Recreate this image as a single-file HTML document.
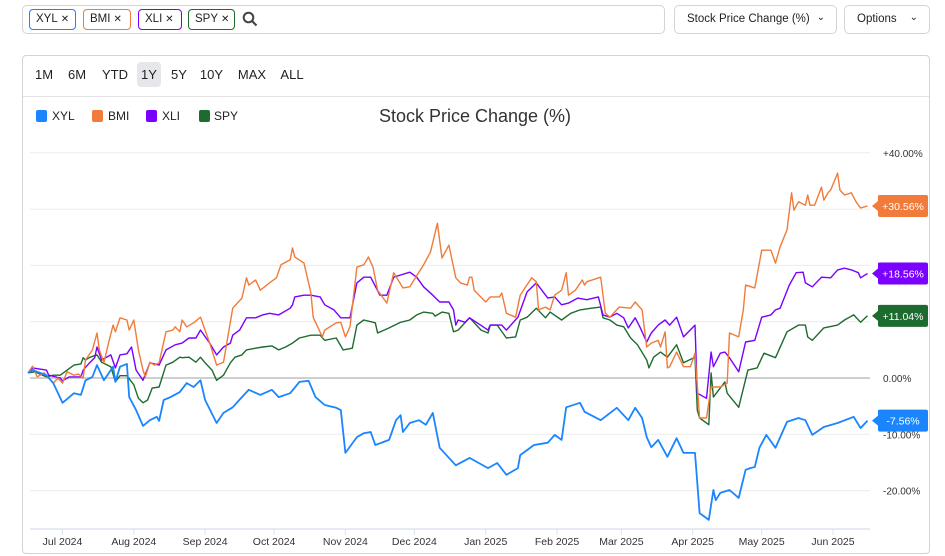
<!DOCTYPE html>
<html><head><meta charset="utf-8">
<style>
*{box-sizing:border-box;margin:0;padding:0}
body{width:945px;height:556px;background:#fff;font-family:"Liberation Sans",Arial,sans-serif;color:#222;position:relative;overflow:hidden}
.abs{position:absolute}
.search{left:22px;top:5px;width:643px;height:29px;border:1px solid #d4d4d8;border-radius:5px}
.tag{top:9px;height:21px;border:1.5px solid;border-radius:4px;font-size:11.5px;line-height:18px;padding-left:6px;color:#222}
.tag span{font-size:10px;margin-left:3px}
.dd{top:5px;height:29px;border:1px solid #d4d4d8;border-radius:5px;font-size:11.5px;line-height:27px;padding-left:12px}
.card{left:22px;top:55px;width:908px;height:499px;border:1px solid #d4d4d8;border-radius:4px}
.rb{top:62px;height:25px;font-size:13px;line-height:25px;text-align:center}
.leg{top:110px;font-size:12px;line-height:13px}
.sq{top:110px;width:11px;height:12px;border-radius:2px}
</style></head><body>
<div class="abs search"></div>
<div class="abs tag" style="left:29px;width:47px;border-color:#1a85ff">XYL<span>✕</span></div>
<div class="abs tag" style="left:83px;width:48px;border-color:#f07b3a">BMI<span>✕</span></div>
<div class="abs tag" style="left:138px;width:44px;border-color:#7a00ff">XLI<span>✕</span></div>
<div class="abs tag" style="left:188px;width:47px;border-color:#1e6b30">SPY<span>✕</span></div>
<svg class="abs" style="left:242px;top:11px" width="16" height="16"><circle cx="6.5" cy="6.5" r="4.8" fill="none" stroke="#444" stroke-width="2"/><line x1="10" y1="10" x2="14.5" y2="14.5" stroke="#444" stroke-width="2.2"/></svg>
<div class="abs dd" style="left:674px;width:163px">Stock Price Change (%)<span style="position:absolute;right:11px;top:-2px;font-size:10px">&#8964;</span></div>
<div class="abs dd" style="left:844px;width:86px">Options<span style="position:absolute;right:11px;top:-2px;font-size:10px">&#8964;</span></div>

<div class="abs card"></div>
<div class="abs rb" style="left:32px;width:24px">1M</div>
<div class="abs rb" style="left:65px;width:24px">6M</div>
<div class="abs rb" style="left:101px;width:28px">YTD</div>
<div class="abs rb" style="left:137px;width:24px;background:#e5e7eb;border-radius:4px">1Y</div>
<div class="abs rb" style="left:167px;width:24px">5Y</div>
<div class="abs rb" style="left:198px;width:27px">10Y</div>
<div class="abs rb" style="left:235px;width:34px">MAX</div>
<div class="abs rb" style="left:278px;width:28px">ALL</div>
<div class="abs" style="left:23px;top:96px;width:906px;height:1px;background:#e4e4e7"></div>

<div class="abs sq" style="left:36px;background:#1a85ff"></div>
<div class="abs leg" style="left:52px">XYL</div>
<div class="abs sq" style="left:92px;background:#f07b3a"></div>
<div class="abs leg" style="left:108px">BMI</div>
<div class="abs sq" style="left:146px;background:#7a00ff"></div>
<div class="abs leg" style="left:162px">XLI</div>
<div class="abs sq" style="left:199px;background:#1e6b30"></div>
<div class="abs leg" style="left:214px">SPY</div>
<div class="abs" style="left:300px;width:350px;top:106px;text-align:center;font-size:18px;color:#333">Stock Price Change (%)</div>

<svg id="chart" class="abs" style="left:0;top:0" width="945" height="556"></svg>

<script>
const yTicks=[40,30,20,10,0,-10,-20];
const monthLabels=["Jul 2024","Aug 2024","Sep 2024","Oct 2024","Nov 2024","Dec 2024","Jan 2025","Feb 2025","Mar 2025","Apr 2025","May 2025","Jun 2025"];
const monthDays=[15,46,77,107,138,168,199,230,258,289,319,350];
const seriesNames=["XYL","BMI","XLI","SPY"];
const seriesColors=["#1a85ff","#f07b3a","#7a00ff","#1e6b30"];
const xylDays=[0,2,8,11,15,20,23,25,28,30,33,37,38,40,43,44,47,50,53,56,57,59,62,66,69,72,75,77,82,85,89,93,96,101,106,109,114,118,122,125,129,134,136,138,143,146,149,151,157,160,162,163,166,170,173,176,179,186,192,200,204,208,213,214,220,226,229,232,234,240,242,249,256,261,264,267,269,271,274,278,282,285,290,292,296,298,299,301,305,309,312,314,316,318,321,325,330,335,338,341,346,352,359,362,365];
const xylVals=[0.9,1.4,0.5,-0.9,-4.4,-2.7,-3.0,-0.4,0.2,2.3,-0.4,2.0,-0.7,2.0,2.5,-3.4,-5.7,-8.5,-7.5,-6.9,-7.6,-3.9,-3.4,-2.5,-0.9,-1.6,-0.4,-3.9,-8.0,-6.2,-5.2,-3.4,-2.1,-3.0,-2.1,-3.4,-2.7,-0.7,-0.5,-3.4,-4.8,-5.3,-5.7,-13.3,-10.5,-9.8,-9.6,-11.9,-11.0,-7.5,-6.6,-9.6,-8.0,-7.5,-8.3,-6.2,-12.4,-15.5,-14.2,-16.0,-15.1,-17.2,-16.0,-13.7,-11.9,-11.5,-10.1,-11.0,-5.2,-4.4,-6.0,-7.5,-5.3,-7.5,-5.3,-7.1,-10.5,-12.3,-11.0,-14.0,-10.7,-13.3,-13.3,-24.0,-25.2,-19.9,-21.7,-20.4,-19.9,-21.3,-16.3,-16.0,-15.8,-12.4,-10.1,-12.4,-7.8,-7.1,-7.5,-10.1,-8.7,-8.0,-6.9,-8.9,-7.56];
const bmiDays=[0,2,4,7,11,13,15,17,20,22,24,25,28,30,31,33,35,37,38,40,43,44,46,48,50,51,53,55,57,60,63,64,66,67,69,72,75,77,79,82,85,89,93,95,96,99,101,105,108,110,114,115,116,120,123,124,125,128,129,134,136,138,140,143,146,148,150,152,156,159,163,166,172,175,178,180,183,186,188,191,192,193,194,199,201,205,206,208,212,214,219,221,222,225,227,229,232,234,235,238,241,242,243,249,251,253,257,262,264,267,269,271,274,275,277,278,279,282,285,288,290,292,295,297,301,304,305,309,311,312,316,319,323,325,327,330,332,333,335,338,339,340,342,345,346,348,349,352,353,355,358,360,362,365];
const bmiVals=[0.9,2.1,0.2,0.9,-0.9,0,-0.9,1.1,0.5,0.7,0,3.2,5.0,8.0,5.0,2.7,6.2,9.4,8.2,10.7,10.3,8.5,10.3,5.0,1.4,0.2,2.8,2.3,2.7,8.2,8.5,9.1,8.2,10.3,9.1,9.8,10.8,8.5,6.2,2.3,2.8,12.4,14.2,17.8,16.5,17.4,15.6,16.9,17.8,20.1,21.0,23.1,21.5,20.4,15.1,10.8,9.9,7.3,8.5,9.8,9.9,7.3,9.1,19.7,20.1,21.5,19.7,15.6,13.3,18.7,16.0,16.2,20.1,22.4,27.5,21.3,23.6,17.8,16.9,16.5,17.9,17.9,15.6,13.5,14.4,14.4,15.1,11.5,10.8,14.7,17.8,17.1,12.1,12.6,12.1,14.7,15.6,18.7,14.7,15.6,17.4,16.5,17.1,17.9,11.5,10.8,12.6,12.4,13.5,12.1,5.5,6.2,6.7,5.5,8.2,1.8,2.0,4.6,2.0,2.0,4.4,-7.1,-7.1,-1.6,-1.6,-0.9,8.0,7.3,12.1,16.5,16.0,22.7,22.7,20.4,23.3,26.3,32.9,29.8,31.3,30.7,32.5,30.7,30.7,33.9,31.6,33.0,33.4,36.4,33.4,32.5,32.9,31.3,30.2,30.56];
const xliDays=[0,2,8,9,14,15,18,23,24,27,29,30,32,36,38,40,43,45,47,50,53,57,60,64,67,70,73,75,79,82,85,88,89,92,95,99,102,105,109,114,115,116,120,123,127,129,133,136,140,143,146,149,150,153,156,159,162,166,169,172,176,179,183,185,186,187,190,192,200,201,206,208,213,217,221,226,229,232,235,239,243,248,250,253,256,259,261,264,266,269,271,274,277,279,282,285,290,291,295,297,298,301,303,305,309,312,316,319,323,325,327,331,334,337,338,341,345,349,352,355,358,361,362,365];
const xliVals=[0.9,1.8,1.4,0.5,0,-0.5,0.2,0.2,1.4,2.8,3.6,5.5,3.2,4.1,1.8,4.1,4.3,5.5,1.4,-0.4,2.7,2.3,5.0,5.9,6.2,7.1,7.1,8.5,6.2,4.1,5.5,6.2,7.6,8.5,10.7,10.7,11.2,11.5,11.2,12.4,13.0,14.4,14.7,14.7,14.4,13.0,12.1,10.7,10.7,16.9,17.9,17.9,17.1,14.7,14.7,17.9,18.3,18.8,17.9,16.2,14.7,13.5,13.5,12.1,9.4,10.3,9.9,10.7,8.5,9.4,9.4,8.5,10.8,15.3,16.9,14.2,14.4,13.0,13.3,14.2,13.9,14.4,11.2,10.8,11.5,10.7,8.9,10.7,9.1,6.4,8.0,9.4,10.3,9.4,10.8,7.3,9.4,-2.7,-3.6,4.6,2.0,4.4,4.6,3.6,1.1,6.4,6.7,10.8,11.2,12.1,12.4,16.5,18.7,18.8,16.9,16.2,17.9,17.8,19.2,19.5,19.2,18.7,17.8,18.56];
const spyDays=[0,3,8,11,14,16,20,23,24,25,27,30,32,36,38,40,43,46,48,50,52,54,57,60,63,66,67,70,73,75,77,80,82,85,88,90,93,95,99,102,106,109,112,115,118,123,127,129,134,137,141,143,146,151,152,157,162,166,169,172,176,177,180,183,185,187,192,197,200,201,204,208,212,214,217,221,225,227,232,236,240,245,249,250,253,256,259,262,265,269,270,272,275,278,282,285,290,291,292,296,297,298,303,304,309,313,317,320,325,330,335,338,339,341,346,352,355,359,362,365];
const spyVals=[0.9,1.1,0.2,0.5,0.5,1.1,2.3,2.5,3.6,3.2,3.7,4.1,2.8,2.0,-0.7,0.4,0.4,-1.2,-3.6,-4.4,-3.9,-1.8,-1.6,2.3,2.8,3.7,3.6,3.7,2.8,3.7,2.7,1.4,-0.4,0.5,2.7,3.7,4.1,5.0,5.3,5.5,5.7,5.0,5.5,6.2,7.1,7.6,7.6,6.7,7.1,5.0,5.3,9.4,10.3,9.8,8.0,8.9,9.9,10.3,11.2,11.7,11.5,11.0,11.7,11.5,8.2,8.5,10.7,8.5,8.0,9.4,9.4,7.1,7.3,10.3,10.8,12.4,10.7,11.7,10.3,11.5,12.1,12.4,12.6,10.7,10.3,9.4,9.1,7.1,5.9,3.2,1.8,3.7,4.6,3.7,5.9,2.7,3.7,-5.7,-7.1,-8.3,0.9,-3.4,-0.7,-2.7,-5.2,1.4,1.8,4.4,3.6,8.2,9.4,9.4,7.3,6.7,8.9,9.4,10.3,11.2,9.9,11.04];

const NS="http://www.w3.org/2000/svg";
const svg=document.getElementById('chart');
const X0=28,XR=2.3,PL=30,PR=870,Y0=378,YS=5.63;
function xScale(d){return X0+d*XR;}
function yScale(v){return Y0-v*YS;}
function mk(tag,attrs){const e=document.createElementNS(NS,tag);for(const k in attrs)e.setAttribute(k,attrs[k]);svg.appendChild(e);return e;}

yTicks.forEach(function(t){
  const y=yScale(t);
  const g=mk('line',{x1:PL,x2:PR,y1:y,y2:y,stroke:t===0?'#cfcfcf':'#ebebeb','stroke-width':t===0?2:1});
  
  
  const tx=mk('text',{x:883,y:y+4,'font-size':10,fill:'#333','font-family':'Liberation Sans, sans-serif'});
  tx.textContent=(t>0?'+':'')+t.toFixed(2)+'%';
  
  
});
const ax=mk('line',{x1:PL,x2:PR,y1:529,y2:529,stroke:'#dde3ee','stroke-width':1.5});


monthDays.forEach(function(d,i){
  const x=xScale(d);
  const tk=mk('line',{x1:x,x2:x,y1:529,y2:535,stroke:'#dde3ee'});
  
  
  const tx=mk('text',{x:x,y:545,'font-size':10.5,fill:'#333','text-anchor':'middle','font-family':'Liberation Sans, sans-serif'});
  tx.textContent=monthLabels[i];
  
  
});
const allDays=[xylDays,bmiDays,xliDays,spyDays];
const allVals=[xylVals,bmiVals,xliVals,spyVals];
[3,2,1,0].forEach(function(s){
  const ds=allDays[s],vs=allVals[s];
  let p='';
  for(let i=0;i<ds.length&&i<vs.length;i++)p+=(i?'L':'M')+xScale(ds[i]).toFixed(1)+' '+yScale(vs[i]).toFixed(1);
  const ln=mk('path',{d:p,fill:'none',stroke:seriesColors[s],'stroke-width':s===0?1.8:1.4,'stroke-linejoin':'round'});
  
  
});
[1,2,3,0].forEach(function(s){
  const vs=allVals[s];const v=vs[vs.length-1];const y=yScale(v);
  const fl=mk('path',{d:'M872 '+y+' L878 '+(y-5)+' L878 '+(y-10)+' Q878 '+(y-11)+' 880 '+(y-11)+' L926 '+(y-11)+' Q928 '+(y-11)+' 928 '+(y-9)+' L928 '+(y+9)+' Q928 '+(y+11)+' 926 '+(y+11)+' L880 '+(y+11)+' Q878 '+(y+11)+' 878 '+(y+9)+' L878 '+(y+5)+' Z',fill:seriesColors[s]});
  
  
  const tx=mk('text',{x:903,y:y+4,'font-size':10.5,fill:'#fff','text-anchor':'middle','font-family':'Liberation Sans, sans-serif'});
  tx.textContent=(v>0?'+':'')+v.toFixed(2)+'%';
  
  
});
</script>
</body></html>
